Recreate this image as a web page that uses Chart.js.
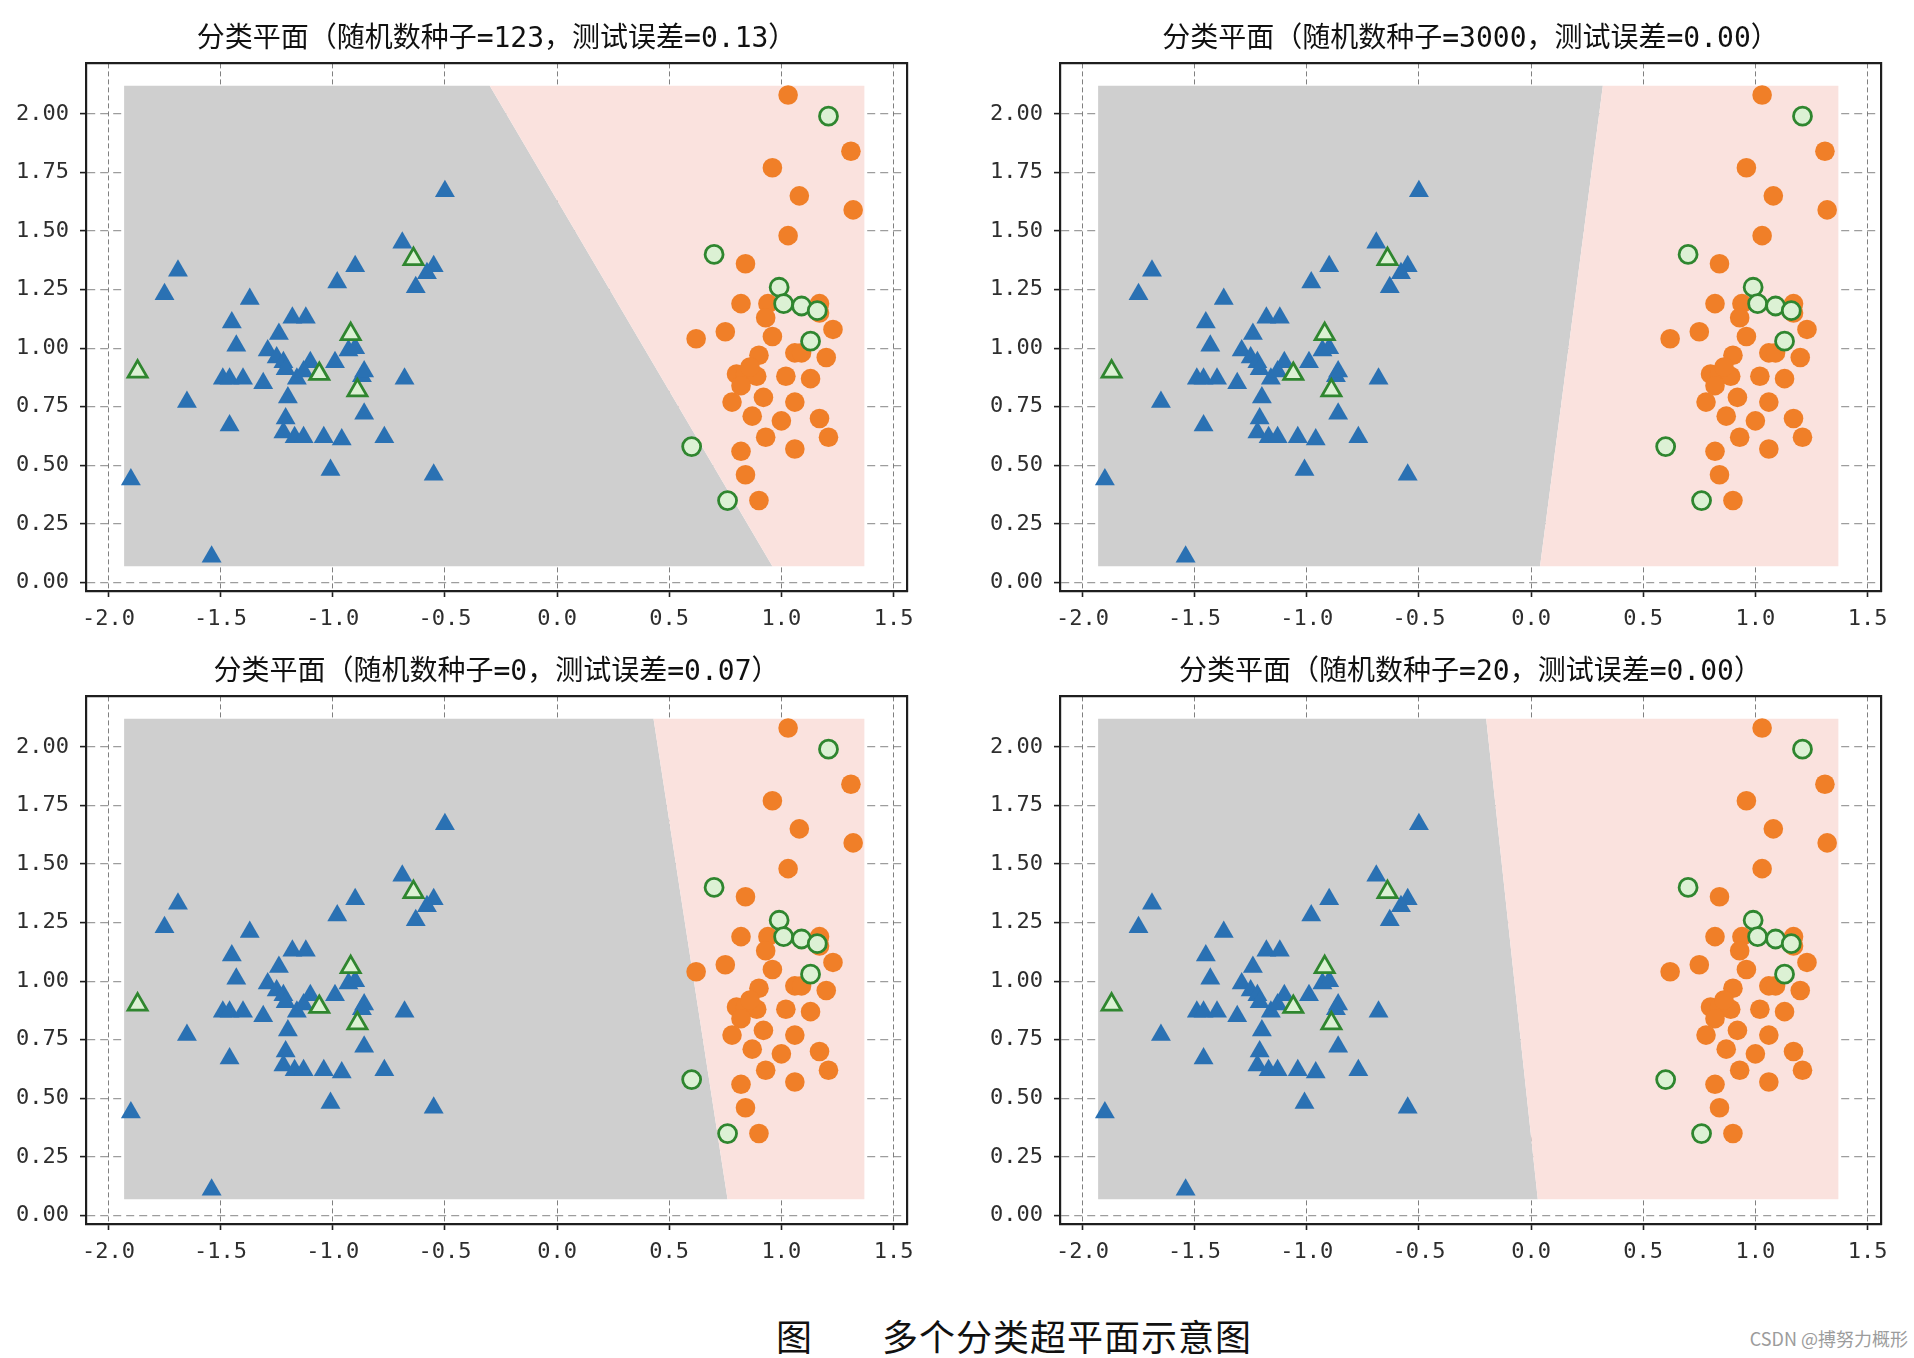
<!DOCTYPE html>
<html>
<head>
<meta charset="utf-8">
<script src="https://cdn.jsdelivr.net/npm/chart.js@4/dist/chart.umd.min.js"></script>
<style>
  html, body { margin: 0; padding: 0; background: #ffffff; overflow: hidden; width: 1914px; height: 1358px; }
  canvas { position: absolute; }
  .txt { position: absolute; white-space: nowrap; font-family: 'Noto Sans CJK SC', sans-serif; }
</style>
</head>
<body>
<canvas id="c0"></canvas>
<canvas id="c1"></canvas>
<canvas id="c2"></canvas>
<canvas id="c3"></canvas>
<div class="txt" style="left:776px; top:1313px; font-size:36px; line-height:44px; color:#111;">图</div>
<div class="txt" style="left:882px; top:1313px; font-size:36px; line-height:44px; color:#111; letter-spacing:1px;">多个分类超平面示意图</div>
<div class="txt" style="right:6px; top:1325px; font-size:18px; line-height:26px; color:#9c9c9c;">CSDN @搏努力概形</div>
<script>
// ---------- tick labels ----------
const xTicks = [-2.0, -1.5, -1.0, -0.5, 0.0, 0.5, 1.0, 1.5];
const xTickLabels = ['-2.0', '-1.5', '-1.0', '-0.5', '0.0', '0.5', '1.0', '1.5'];
const yTicks = [0.0, 0.25, 0.5, 0.75, 1.0, 1.25, 1.5, 1.75, 2.0];
const yTickLabels = ['0.00', '0.25', '0.50', '0.75', '1.00', '1.25', '1.50', '1.75', '2.00'];

// ---------- panels ----------
const seeds = [123, 3000, 0, 20];
const testErrors = ['0.13', '0.00', '0.07', '0.00'];

// decision boundary: x where the boundary meets the top / bottom edge of the mesh
const boundaryTopX = [-0.30, 0.32, 0.43, -0.20];
const boundaryBottomX = [0.96, 0.04, 0.76, 0.03];
const meshX = [-1.93, 1.37];
const meshY = [0.07, 2.12];

// ---------- training points, class 0 (blue triangles) ----------
const train0X = [-0.50, -0.69, -0.90, -0.98, -0.55, -0.58, -0.63, -1.69, -1.75, -1.37,
                 -1.18, -1.12, -1.45, -1.24, -1.43, -1.29, -1.25, -1.22, -1.21, -0.93,
                 -0.90, -0.99, -1.10, -1.16, -1.13, -1.49, -1.46, -1.40, -1.31, -0.87,
                 -0.86, -0.68, -1.20, -1.65, -0.86, -1.46, -1.21, -1.22, -1.17, -1.13,
                 -1.04, -0.96, -0.77, -1.01, -0.55, -1.90, -1.54];
const train0Y = [1.67, 1.45, 1.35, 1.28, 1.35, 1.32, 1.26, 1.33, 1.23, 1.21,
                 1.13, 1.13, 1.11, 1.06, 1.01, 0.99, 0.96, 0.94, 0.91, 0.99,
                 1.00, 0.94, 0.94, 0.87, 0.90, 0.87, 0.87, 0.87, 0.85, 0.88,
                 0.90, 0.87, 0.79, 0.77, 0.72, 0.67, 0.70, 0.64, 0.62, 0.62,
                 0.62, 0.61, 0.62, 0.48, 0.46, 0.44, 0.11];

// ---------- training points, class 1 (orange circles) ----------
const train1X = [1.03, 1.31, 0.96, 1.08, 1.32, 1.03, 0.84, 0.82, 0.94, 0.93,
                 1.17, 1.17, 1.23, 0.62, 0.75, 0.96, 0.90, 1.06, 1.09, 1.20,
                 0.80, 0.84, 0.89, 0.82, 1.02, 1.13, 0.78, 0.92, 1.06, 0.87,
                 1.00, 1.17, 0.93, 1.21, 0.82, 1.06, 0.84, 0.90, 0.86];
const train1Y = [2.08, 1.84, 1.77, 1.65, 1.59, 1.48, 1.36, 1.19, 1.19, 1.13,
                 1.19, 1.15, 1.08, 1.04, 1.07, 1.05, 0.97, 0.98, 0.98, 0.96,
                 0.89, 0.89, 0.88, 0.84, 0.88, 0.87, 0.77, 0.79, 0.77, 0.71,
                 0.69, 0.70, 0.62, 0.62, 0.56, 0.57, 0.46, 0.35, 0.92];

// ---------- test points (green hollow markers) ----------
const test0X = [-1.87, -1.06, -0.92, -0.89, -0.64];
const test0Y = [0.90, 0.89, 1.06, 0.82, 1.38];
const test1X = [1.21, 0.70, 0.99, 1.01, 1.09, 1.16, 1.13, 0.60, 0.76];
const test1Y = [1.99, 1.40, 1.26, 1.19, 1.18, 1.16, 1.03, 0.58, 0.35];

// ---------- styling ----------
const COL_BLUE = '#2a71b3';
const COL_ORANGE = '#f07f28';
const COL_GREEN = '#2f862f';
const COL_GREEN_FILL = '#dcf1d4';
const COL_GRAY = '#cfcfcf';
const COL_PINK = '#fae2de';
const FRAME = '#1e1e1e';
const TICK_FONT = "'DejaVu Sans Mono', 'Liberation Mono', monospace";

const panelLayout = [
  { left: 0,   top: 0,   width: 957, rightPad: 50 },
  { left: 974, top: 0,   width: 940, rightPad: 33 },
  { left: 0,   top: 633, width: 957, rightPad: 50 },
  { left: 974, top: 633, width: 940, rightPad: 33 }
];
const CANVAS_H = 660;

function pts(xs, ys) { return xs.map((x, i) => ({ x: x, y: ys[i] })); }

function makePanel(i) {
  const p = panelLayout[i];
  const cv = document.getElementById('c' + i);
  cv.width = p.width; cv.height = CANVAS_H;
  cv.style.left = p.left + 'px'; cv.style.top = p.top + 'px';
  cv.style.width = p.width + 'px'; cv.style.height = CANVAS_H + 'px';

  const region0 = [
    { x: meshX[0], y: meshY[0] }, { x: meshX[0], y: meshY[1] },
    { x: boundaryTopX[i], y: meshY[1] }, { x: boundaryBottomX[i], y: meshY[0] }
  ];
  const region1 = [
    { x: boundaryBottomX[i], y: meshY[0] }, { x: boundaryTopX[i], y: meshY[1] },
    { x: meshX[1], y: meshY[1] }, { x: meshX[1], y: meshY[0] }
  ];

  const title = '分类平面（随机数种子=' + seeds[i] + '，测试误差=' + testErrors[i] + '）';

  new Chart(cv, {
    type: 'scatter',
    data: {
      datasets: [
        { label: 'test1', data: pts(test1X, test1Y), pointStyle: 'circle', pointRadius: 9,
          backgroundColor: COL_GREEN_FILL, borderColor: COL_GREEN, borderWidth: 2.8 },
        { label: 'test0', data: pts(test0X, test0Y), pointStyle: 'triangle', pointRadius: 11,
          backgroundColor: COL_GREEN_FILL, borderColor: COL_GREEN, borderWidth: 2.8 },
        { label: 'train1', data: pts(train1X, train1Y), pointStyle: 'circle', pointRadius: 9.8,
          backgroundColor: COL_ORANGE, borderColor: COL_ORANGE, borderWidth: 0 },
        { label: 'train0', data: pts(train0X, train0Y), pointStyle: 'triangle', pointRadius: 11.5,
          backgroundColor: COL_BLUE, borderColor: COL_BLUE, borderWidth: 0 },
        { label: 'region1', data: region1, showLine: true, fill: 'shape', backgroundColor: COL_PINK,
          borderWidth: 0, pointRadius: 0, tension: 0 },
        { label: 'region0', data: region0, showLine: true, fill: 'shape', backgroundColor: COL_GRAY,
          borderWidth: 0, pointRadius: 0, tension: 0 }
      ]
    },
    options: {
      responsive: false,
      animation: false,
      devicePixelRatio: 1,
      events: [],
      layout: { padding: { left: 0, top: 0, right: p.rightPad, bottom: CANVAS_H - 591 - 50 } },
      plugins: {
        legend: { display: false },
        tooltip: { enabled: false },
        title: {
          display: true,
          text: title,
          fullSize: false,
          color: '#111111',
          font: { family: "'DejaVu Sans Mono', 'Noto Sans CJK SC', sans-serif", size: 28, weight: 'normal', lineHeight: 1.2 },
          padding: { top: 23.2, bottom: 6.6 }
        }
      },
      scales: {
        x: {
          type: 'linear', position: 'bottom', min: -2.10, max: 1.56, z: 1,
          afterBuildTicks: (axis) => { axis.ticks = xTicks.map(v => ({ value: v })); },
          afterFit: (axis) => { axis.height = 50; },
          ticks: {
            autoSkip: false, maxRotation: 0, padding: 9, color: '#2e2e2e',
            font: { family: TICK_FONT, size: 22 },
            callback: (v) => xTickLabels[xTicks.indexOf(v)]
          },
          grid: { display: true, color: 'rgba(85,85,85,0.75)', lineWidth: 1, drawTicks: true,
                  tickLength: 6, tickColor: FRAME, tickWidth: 1.6 },
          border: { display: true, color: FRAME, width: 2.2, dash: [5, 3] }
        },
        y: {
          type: 'linear', position: 'left', min: -0.036, max: 2.215, z: 1,
          afterBuildTicks: (axis) => { axis.ticks = yTicks.map(v => ({ value: v })); },
          afterFit: (axis) => { axis.width = 86; },
          ticks: {
            autoSkip: false, padding: 11, color: '#2e2e2e',
            font: { family: TICK_FONT, size: 22 },
            callback: (v) => yTickLabels[yTicks.indexOf(v)]
          },
          grid: { display: true, color: 'rgba(115,115,115,0.7)', lineWidth: 1.2, drawTicks: true,
                  tickLength: 6, tickColor: FRAME, tickWidth: 1.6 },
          border: { display: true, color: FRAME, width: 2.2, dash: [8, 5] }
        },
        x2: {
          type: 'linear', position: 'top', display: true, z: 1,
          afterFit: (axis) => { axis.height = 0; },
          ticks: { display: false },
          grid: { display: false, drawTicks: false },
          border: { display: true, color: FRAME, width: 2.2 }
        },
        y2: {
          type: 'linear', position: 'right', display: true, z: 1,
          afterFit: (axis) => { axis.width = 0; },
          ticks: { display: false },
          grid: { display: false, drawTicks: false },
          border: { display: true, color: FRAME, width: 2.2 }
        }
      }
    }
  });
}

for (let i = 0; i < 4; i++) makePanel(i);
</script>
</body>
</html>
